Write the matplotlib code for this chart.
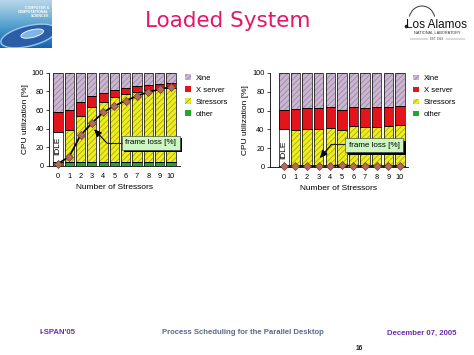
import matplotlib
matplotlib.use("Agg")
import matplotlib.pyplot as plt
import matplotlib.patheffects as pe
from matplotlib.patches import Ellipse, Arc
from matplotlib.lines import Line2D
import numpy as np

plt.rcParams['font.family'] = ['Liberation Sans', 'DejaVu Sans']
plt.rcParams['hatch.linewidth'] = 0.6

stressors = list(range(11))

# left chart: loaded system (stacked cpu shares, %)
left_other = [4.5, 4.5, 4.5, 4.5, 4.5, 4.5, 4.5, 4.5, 4.5, 4.5, 4.5]
left_idle = [31.5, 0, 0, 0, 0, 0, 0, 0, 0, 0, 0]
left_stress = [0, 34.1, 49.5, 58.5, 64.5, 69.1, 72.3, 74.5, 76.9, 78.4, 79.5]
left_xserver = [21.5, 21, 15, 12, 9.6, 7.8, 7.2, 6.7, 5.4, 5, 4.6]
left_xine = [42.5, 40.4, 31, 25, 21.4, 18.6, 16, 14.3, 13.2, 12.1, 11.4]
left_loss = [2.5, 10, 33, 46, 57.5, 64.5, 70, 75, 79.5, 82, 85]

# right chart
right_other = [1.5, 1.5, 1.5, 1.5, 1.5, 1.5, 1.5, 1.5, 1.5, 1.5, 1.5]
right_idle = [38.5, 0, 0, 0, 0, 0, 0, 0, 0, 0, 0]
right_stress = [0, 38.2, 39.3, 39.3, 40.5, 37.5, 41.8, 40.7, 41, 41.8, 43.5]
right_xserver = [21, 22, 21.6, 22.2, 21.5, 22, 20.5, 20.8, 21.3, 20.5, 20.2]
right_xine = [39, 38.3, 37.6, 37, 36.5, 39, 36.2, 37, 36.2, 36.2, 34.8]
right_loss = [1, 1, 1, 1, 1, 2, 1, 1, 1, 1, 1]

series_names = ['other', 'IDLE', 'Stressors', 'X server', 'Xine']
face = {'other': '#1fa82a', 'IDLE': 'white', 'Stressors': '#eeee1a',
        'X server': '#e3141c', 'Xine': '#cbb6d2'}
hatchc = {'other': '#1fa82a', 'IDLE': 'white', 'Stressors': '#a9a62e',
          'X server': '#e3141c', 'Xine': '#9c88a4'}
hatches = {'other': None, 'IDLE': None, 'Stressors': '//////',
           'X server': None, 'Xine': '//////'}


def draw_chart(ax, parts, loss, idle_y, box_xy, elbow, tip):
    x = np.array(stressors)
    bottom = np.zeros(11)
    for name, vals in zip(series_names, parts):
        vals = np.array(vals)
        ax.bar(x, vals, 0.82, bottom=bottom, color=face[name],
               edgecolor=hatchc[name], hatch=hatches[name], linewidth=0)
        ax.bar(x, vals, 0.82, bottom=bottom, fill=False,
               edgecolor='black', linewidth=0.5)
        bottom += vals
    ax.plot(x, loss, color='black', lw=1.2, marker='D', ms=4.2,
            mfc='#b26c5c', mec='#6e3a30', mew=0.5, zorder=5, clip_on=False)
    ax.text(0, idle_y, 'IDLE', rotation=90, ha='center', va='center',
            fontsize=6, color='black')
    ax.set_ylim(0, 100)
    ax.set_yticks([0, 20, 40, 60, 80, 100])
    ax.set_xticks(x)
    ax.tick_params(labelsize=5.3, length=2, width=0.5, pad=2)
    ax.tick_params(axis='x', length=0, pad=5)
    for s in ['top', 'right']:
        ax.spines[s].set_visible(False)
    ax.spines['left'].set_linewidth(0.6)
    ax.spines['bottom'].set_linewidth(0.6)
    ax.set_ylabel('CPU utilization [%]', fontsize=6, labelpad=2)
    ax.set_xlabel('Number of Stressors', fontsize=6, labelpad=3)

    # callout: box, horizontal leader hidden behind box, arrow to the curve
    t = ax.text(box_xy[0], box_xy[1], 'frame loss [%]', fontsize=5.8,
                ha='center', va='center', zorder=8,
                bbox=dict(boxstyle='square,pad=0.45', fc='#ccf7c2',
                          ec='#333333', lw=0.4))
    t.get_bbox_patch().set_path_effects([
        pe.withSimplePatchShadow(offset=(1.8, -1.8), shadow_rgbFace='black', alpha=1)])
    ax.plot([elbow[0], box_xy[0]], [elbow[1], elbow[1]], color='#222222', lw=0.8, zorder=7)
    ax.annotate('', xy=tip, xytext=elbow, zorder=7,
                arrowprops=dict(arrowstyle='-|>,head_length=0.45,head_width=0.2',
                                color='black', lw=0.8, shrinkA=0, shrinkB=0))

    handles = [plt.Rectangle((0, 0), 1, 1, fc=face[n], ec=hatchc[n], hatch=hatches[n], lw=0)
               for n in ['Xine', 'X server', 'Stressors', 'other']]
    ax.legend(handles, ['Xine', 'X server', 'Stressors', 'other'],
              loc='upper left', bbox_to_anchor=(1.0, 1.04), frameon=False,
              fontsize=5.5, handlelength=0.75, handleheight=0.75,
              handletextpad=0.6, labelspacing=0.6, borderaxespad=0.3)


fig = plt.figure(figsize=(4.74, 3.55), dpi=100)
fig.patch.set_facecolor('white')

axl = fig.add_axes([0.1044, 0.5324, 0.2753, 0.2628])
axl.set_xlim(-0.75, 10.8)
draw_chart(axl, [left_other, left_idle, left_stress, left_xserver, left_xine],
           left_loss, 22, (8.2, 25), (4.3, 25), (3.2, 39.5))

axr = fig.add_axes([0.5696, 0.5296, 0.2911, 0.2648])
axr.set_xlim(-1.2, 10.7)
draw_chart(axr, [right_other, right_idle, right_stress, right_xserver, right_xine],
           right_loss, 18, (7.8, 23), (4.1, 24), (3.1, 9.5))

# title and slide decorations
fig.text(228 / 474, 1 - 21 / 355, 'Loaded System', fontsize=15.5, color='#e3176a',
         ha='center', va='center', family='DejaVu Sans')

# blue logo top left
logo = fig.add_axes([0, 1 - 48 / 355, 52 / 474, 48 / 355])
grad = np.linspace(0, 1, 64)
img = np.outer(grad, np.ones(64))
logo.imshow(img, cmap='Blues', vmin=-0.6, vmax=1.4, aspect='auto', extent=(0, 1, 0, 1))
logo.add_patch(Ellipse((0.55, 0.25), 1.1, 0.42, angle=15, fc='#2a5fa8', ec='#9cc8ee', lw=1))
logo.add_patch(Ellipse((0.62, 0.3), 0.45, 0.16, angle=15, fc='#7fb4e6', ec='white', lw=0.6))
logo.text(0.95, 0.88, 'COMPUTER &\nCOMPUTATIONAL\nSCIENCES', color='white', fontsize=2.6,
          ha='right', va='top', fontweight='bold', linespacing=1.1)
logo.set_xlim(0, 1)
logo.set_ylim(0, 1)
logo.axis('off')

# Los Alamos logo
fig.text(437 / 474, 1 - 25 / 355, 'Los Alamos', fontsize=8.5, ha='center', va='center',
         color='#111111')
fig.text(437 / 474, 1 - 33.5 / 355, 'NATIONAL LABORATORY', fontsize=2.8, ha='center',
         va='center', color='#333333')
fig.text(437 / 474, 1 - 39 / 355, 'EST. 1943', fontsize=2, ha='center', va='center',
         color='#333333')
fig.add_artist(Line2D([410 / 474, 428 / 474], [1 - 39 / 355, 1 - 39 / 355], lw=0.3, color='#555555'))
fig.add_artist(Line2D([446 / 474, 465 / 474], [1 - 39 / 355, 1 - 39 / 355], lw=0.3, color='#555555'))
fig.add_artist(Line2D([405.5 / 474], [1 - 26 / 355], marker='o', ms=1.6, color='#222222'))
swoosh = Arc((422 / 474, 1 - 20 / 355), 26 / 474, 28 / 355, theta1=20, theta2=160,
             transform=fig.transFigure, lw=0.7, color='#333333')
fig.add_artist(swoosh)

# footer
fig.text(58 / 474, 1 - 333 / 355, "I-SPAN'05", fontsize=5.6, fontweight='bold',
         color='#6a2cb0', ha='center', va='center')
fig.text(243 / 474, 1 - 333 / 355, 'Process Scheduling for the Parallel Desktop',
         fontsize=5.6, fontweight='bold', color='#5b6a8a', ha='center', va='center')
fig.text(422 / 474, 1 - 333 / 355, 'December 07, 2005', fontsize=5.6, fontweight='bold',
         color='#6a2cb0', ha='center', va='center')
fig.text(359 / 474, 1 - 349 / 355, '16', fontsize=4.8, fontweight='bold',
         color='#222222', ha='center', va='center')

fig.savefig('out.png', dpi=100)
